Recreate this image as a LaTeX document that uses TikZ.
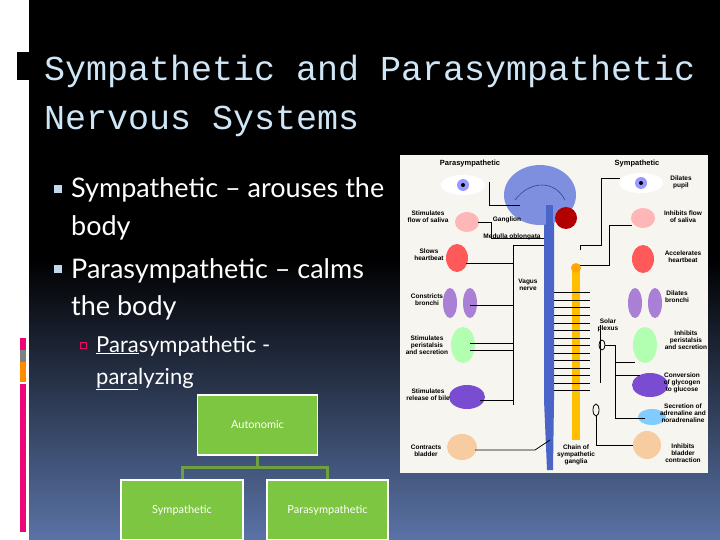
\documentclass[tikz,border=0pt]{standalone}
\usepackage{fontspec}
\setmainfont{Lato}
\newfontfamily\monof{Liberation Mono}
\newfontfamily\labf{Liberation Sans}
\usetikzlibrary{shapes.geometric}
\definecolor{titlec}{HTML}{CFE6F6}
\definecolor{bulc}{HTML}{BFD8EC}
\definecolor{chartg}{HTML}{7DC641}
\definecolor{lineg}{HTML}{6E9F40}
\definecolor{bgb}{HTML}{5A73A6}
\definecolor{imgbg}{HTML}{F6F5F0}
\definecolor{nerveb}{HTML}{4A64C8}
\definecolor{brainb}{HTML}{7F8FE0}
\tikzset{
 box/.style={draw=white,line width=1.5pt,fill=chartg,minimum width=120pt,minimum height=60pt,text=white,font=\fontsize{11}{13}\selectfont},
 conn/.style={lineg,line width=3pt},
 lab/.style={font=\labf\bfseries\fontsize{6.5}{7}\selectfont,align=center,text=black,inner sep=0pt},
 nl/.style={black,line width=0.8pt},
 bodyt/.style={anchor=base west,text=white,font=\fontsize{27}{29}\selectfont,inner sep=0pt},
}
\begin{document}
\begin{tikzpicture}[x=1pt,y=-1pt]
\useasboundingbox (0,0) rectangle (720,540);
\fill[white] (0,0) rectangle (29,540);
\fill[black] (29,0) rectangle (720,260);
\shade[top color=black,bottom color=bgb] (29,259.5) rectangle (720,540);
% left accents
\fill[black] (17,52) rectangle (29,80);
\fill[magenta!80!red] (20,338) rectangle (26,350);
\fill[gray] (20,350) rectangle (26,362);
\fill[orange!90!yellow] (20,362) rectangle (26,382);
\fill[magenta!80!red] (20,384) rectangle (26,532);
% title
\node[anchor=base west,text=titlec,font=\monof\fontsize{35}{37}\selectfont,inner sep=0pt] (t1) at (44,81) {Sympathetic and Parasympathetic};
\node[anchor=base west,text=titlec,font=\monof\fontsize{35}{37}\selectfont,inner sep=0pt] (t2) at (44,130) {Nervous Systems};
% bullets
\fill[bulc] (54,185) rectangle (62,193);
\node[bodyt] (b1) at (71,198) {Sympathetic – arouses the};
\node[bodyt] (b1b) at (71,236) {body};
\fill[bulc] (54,265) rectangle (62,273);
\node[bodyt] (b2) at (71,278) {Parasympathetic – calms};
\node[bodyt] (b2b) at (71,315) {the body};
\draw[magenta!60!red,line width=0.8pt] (80,342) rectangle (86,348);
\node[bodyt,font=\fontsize{22}{24}\selectfont] (s1) at (96,352) {\underline{Para}sympathetic -};
\node[bodyt,font=\fontsize{22}{24}\selectfont] (s2) at (96,384) {\underline{para}lyzing};
% chart
\node[box] (auto) at (257.5,425) {Autonomic};
\node[box,minimum width=122pt] (sym) at (182,510) {Sympathetic};
\node[box,minimum width=121pt] (par) at (327.5,510) {Parasympathetic};
\draw[conn] (auto.south) -- ++(0,12) coordinate (j);
\draw[conn] (sym.north) |- (j) -| (par.north);
% picture
\fill[imgbg] (400,155) rectangle (708,473);
\node[lab,font=\labf\bfseries\fontsize{7.5}{8}\selectfont] (ph) at (470,164) {Parasympathetic};
\node[lab,font=\labf\bfseries\fontsize{7.5}{8}\selectfont] (sh) at (637,164) {Sympathetic};
% brain and cord
\fill[nerveb] (544,215) -- (554,215) -- (554,400) -- (553,470) -- (547,470) -- (544,400) -- cycle;
\fill[brainb] (540,195) ellipse (36 and 30);
\draw[nerveb!70!black,line width=0.6pt] (515,200) .. controls (530,180) and (555,180) .. (565,200);
\fill[red!70!black] (566,218) circle (11);
\fill[nerveb] (546,205) rectangle (553,230);
\fill[orange!50!yellow] (572,265) rectangle (580,440);
\fill[orange!70!yellow] (576,268) circle (5);
% organs left
\fill[white] (463,185) ellipse (22 and 10); \fill[blue!40] (463,185) circle (6); \fill[black] (463,185) circle (2);
\fill[pink!70!red!60] (467,222) ellipse (12 and 10);
\fill[red!65] (457,258) ellipse (11 and 14);
\fill[blue!35!violet!50] (450,303) ellipse (7 and 15); \fill[blue!35!violet!50] (470,303) ellipse (7 and 15);
\fill[green!30] (463,345) ellipse (12 and 18);
\fill[blue!50!violet!70] (467,397) ellipse (18 and 12);
\fill[brown!30!orange!40] (462,447) ellipse (15 and 13);
% organs right
\fill[white] (641,183) ellipse (22 and 10); \fill[blue!40] (641,183) circle (6); \fill[black] (641,183) circle (2);
\fill[pink!70!red!60] (643,218) ellipse (12 and 10);
\fill[red!65] (643,259) ellipse (11 and 14);
\fill[blue!35!violet!50] (635,303) ellipse (7 and 15); \fill[blue!35!violet!50] (655,303) ellipse (7 and 15);
\fill[green!30] (645,345) ellipse (12 and 18);
\fill[blue!50!violet!70] (650,385) ellipse (18 and 12);
\fill[blue!40!cyan!50] (652,417) ellipse (14 and 8);
\fill[brown!30!orange!40] (647,445) ellipse (14 and 14);
% nerve lines
\draw[nl] (489,182) -- (489,205) -- (520,205);
\draw[nl] (478,222) -- (491,222) -- (491,238) -- (544,238);
\draw[nl] (513,245) -- (544,245);
\draw[nl] (513,245) -- (513,405);
\draw[nl] (513,263) -- (466,263);
\draw[nl] (513,305) -- (470,305);
\draw[nl] (513,343) -- (470,343);
\draw[nl] (513,350) -- (470,350);
\draw[nl] (513,400) -- (480,400);
\draw[nl] (550,440) -- (535,450) -- (475,450);
\foreach \y in {292,300,307,315,323,330,338,345,353,360,368,375,383,390} \draw[nl] (554,\y) -- (590,\y);
\draw[nl] (580,250) -- (580,245) -- (601,245) -- (601,178) -- (620,178);
\draw[nl] (580,265) -- (609,265) -- (609,225) -- (632,225);
\draw[nl] (600,325) -- (600,383);
\draw[nl] (602,345) ellipse (3 and 5);
\draw[nl] (605,345) -- (615,345) -- (615,362) -- (635,362);
\draw[nl] (615,345) -- (615,375) -- (640,375);
\draw[nl] (615,345) -- (615,418) -- (645,418);
\draw[nl] (596,410) ellipse (3 and 6);
\draw[nl] (596,416) -- (596,445) -- (633,445);
% labels
\node[lab] (l1) at (428,217) {Stimulates\\flow of saliva};
\node[lab] (l2) at (429,255) {Slows\\heartbeat};
\node[lab] (l3) at (427,300) {Constricts\\bronchi};
\node[lab] (l4) at (427,345) {Stimulates\\peristalsis\\and secretion};
\node[lab] (l5) at (428,395) {Stimulates\\release of bile};
\node[lab] (l6) at (426,451) {Contracts\\bladder};
\node[lab] (l7) at (507,220) {Ganglion};
\node[lab] (l8) at (512,237) {Medulla oblongata};
\node[lab] (l9) at (528,285) {Vagus\\nerve};
\node[lab] (l10) at (608,325) {Solar\\plexus};
\node[lab] (l11) at (576,455) {Chain of\\sympathetic\\ganglia};
\node[lab] (r1) at (681,182) {Dilates\\pupil};
\node[lab] (r2) at (683,217) {Inhibits flow\\of saliva};
\node[lab] (r3) at (683,257) {Accelerates\\heartbeat};
\node[lab] (r4) at (677,297) {Dilates\\bronchi};
\node[lab] (r5) at (686,340) {Inhibits\\peristalsis\\and secretion};
\node[lab] (r6) at (682,383) {Conversion\\of glycogen\\to glucose};
\node[lab] (r7) at (683,413) {Secretion of\\adrenaline and\\noradrenaline};
\node[lab] (r8) at (683,453) {Inhibits\\bladder\\contraction};
\end{tikzpicture}
\end{document}
